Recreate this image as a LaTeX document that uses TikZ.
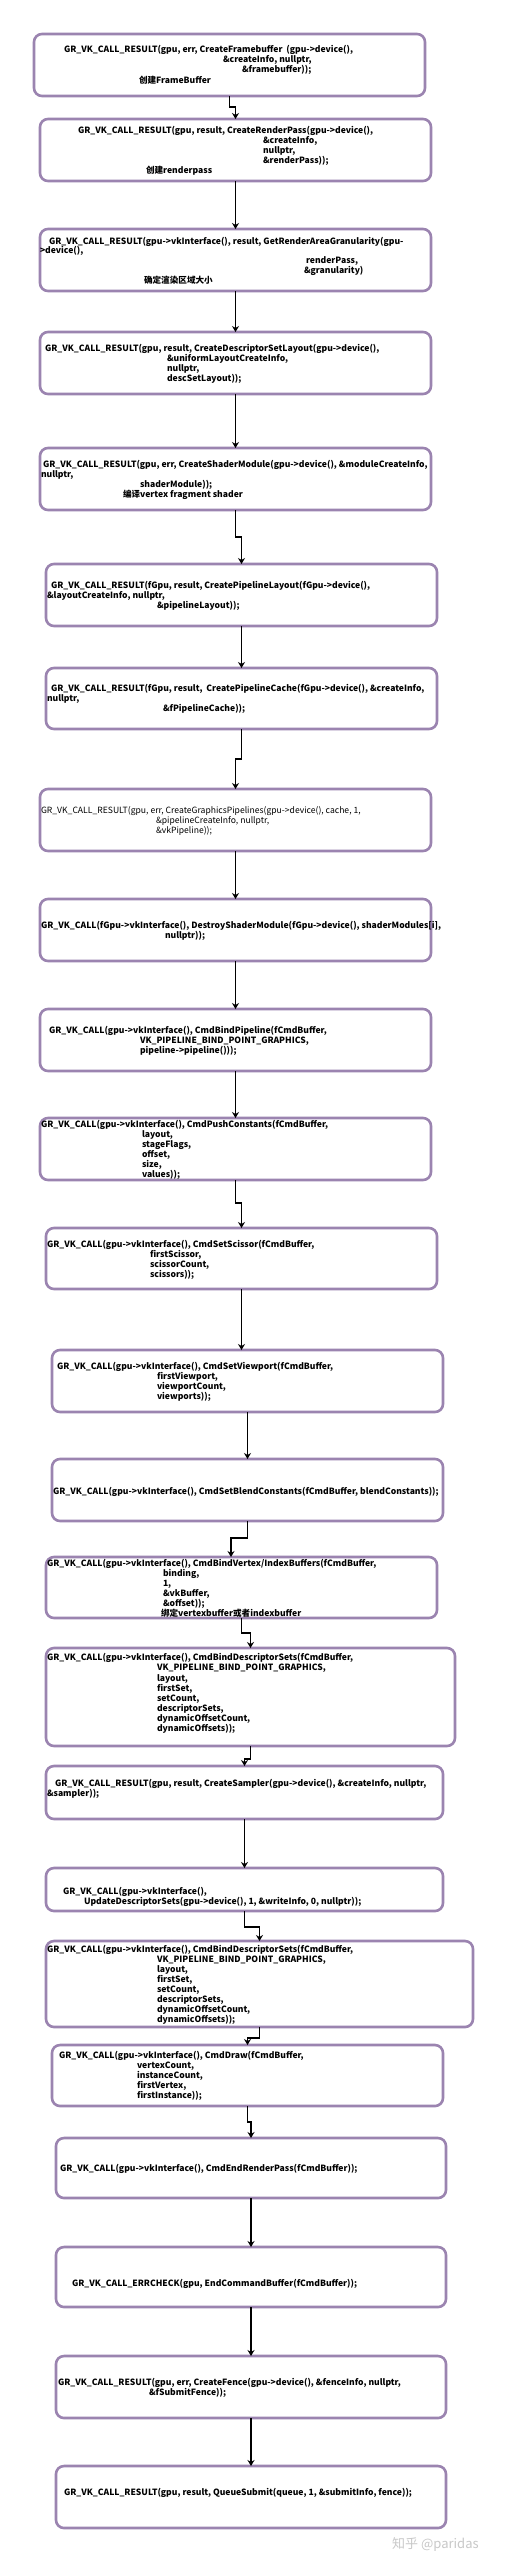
\documentclass[tikz,border=0pt]{standalone}
\usepackage{fontspec}
\setmainfont{Noto Sans CJK SC}
\usetikzlibrary{arrows.meta}
\definecolor{boxc}{RGB}{155,132,176}
\definecolor{wmark}{RGB}{200,200,200}
\tikzset{
 box/.style={draw=boxc, line width=2.6bp, rounded corners=8bp, fill=white, outer sep=0pt, inner sep=0pt},
 txt/.style={inner sep=0pt, outer sep=0pt, font=\fontsize{8.6bp}{10bp}\selectfont\bfseries, anchor=base west},
 txtr/.style={inner sep=0pt, outer sep=0pt, font=\fontsize{8.6bp}{10bp}\selectfont, anchor=base west},
 arr/.style={draw=black, line width=1.5bp, -{Stealth[length=6bp,width=7bp]}},
}
\newcounter{lnno}
\newcommand\tl[4][txt]{\stepcounter{lnno}\node[#1] (ln\thelnno) at (#2,#3+3.3) {#4};}
\newcommand\bx[5]{\node[box, minimum width={(#4-#2)*1bp}, minimum height={(#5-#3)*1bp}] (#1) at ({(#2+#4)/2},{(#3+#5)/2}) {};}
\begin{document}
\begin{tikzpicture}[x=1bp,y=-1bp]
\fill[white] (0,0) rectangle (506,2568);
\useasboundingbox (0,0) rectangle (506,2568);
% boxes
\bx{b1}{34}{34}{425}{96}
\bx{b2}{40}{119}{431}{181}
\bx{b3}{40}{229}{431}{291}
\bx{b4}{40}{332}{431}{394}
\bx{b5}{40}{448}{431}{510}
\bx{b6}{46}{564}{437}{626}
\bx{b7}{46}{668}{437}{729}
\bx{b8}{40}{789}{431}{851}
\bx{b9}{40}{899}{431}{961}
\bx{b10}{40}{1009}{431}{1071}
\bx{b11}{40}{1118}{431}{1180}
\bx{b12}{46}{1228}{437}{1289}
\bx{b13}{52}{1350}{443}{1412}
\bx{b14}{52}{1459}{443}{1521}
\bx{b15}{46}{1557}{437}{1618}
\bx{b16}{46}{1648}{455}{1746}
\bx{b17}{46}{1766}{443}{1819}
\bx{b18}{46}{1868}{443}{1911}
\bx{b19}{46}{1941}{473}{2027}
\bx{b20}{52}{2045}{443}{2106}
\bx{b21}{56}{2138}{446}{2198}
\bx{b22}{56}{2247}{446}{2307}
\bx{b23}{56}{2356}{446}{2418}
\bx{b24}{56}{2466}{446}{2528}
% connectors
\draw[arr] (b1.south) -- ++(0,11) -| (b2.north);
\draw[arr] (b2.south) -- (b3.north);
\draw[arr] (b3.south) -- (b4.north);
\draw[arr] (b4.south) -- (b5.north);
\draw[arr] (b5.south) -- ++(0,27) -| (b6.north);
\draw[arr] (b6.south) -- (b7.north);
\draw[arr] (b7.south) -- ++(0,30) -| (b8.north);
\draw[arr] (b8.south) -- (b9.north);
\draw[arr] (b9.south) -- (b10.north);
\draw[arr] (b10.south) -- (b11.north);
\draw[arr] (b11.south) -- ++(0,23) -| (b12.north);
\draw[arr] (b12.south) -- (b12.south |- b13.north);
\draw[arr] (b13.south) -- (b14.north);
\draw[arr] (b14.south) -- ++(0,17) -| ([xshift=-10.5bp]b15.north);
\draw[arr] (b15.south) -- ++(0,15) -| (b16.north);
\draw[arr] (b16.south) -- ++(0,13) -| (b17.north);
\draw[arr] (b17.south) -- (b18.north);
\draw[arr] (b18.south) -- ++(0,16) -| (b19.north);
\draw[arr] (b19.south) -- ++(0,11) -| (b20.north);
\draw[arr] (b20.south) -- ++(0,16) -| (b21.north);
\draw[arr] (b21.south) -- (b22.north);
\draw[arr] (b22.south) -- (b23.north);
\draw[arr] (b23.south) -- (b24.north);
% texts
\tl{64}{49}{GR\_VK\_CALL\_RESULT(gpu, err, CreateFramebuffer~~(gpu->device(),}
\tl{223}{59}{\&createInfo, nullptr,}
\tl{242}{69}{\&framebuffer));}
\tl{139}{80}{创建FrameBuffer}
%
\tl{78}{130}{GR\_VK\_CALL\_RESULT(gpu, result, CreateRenderPass(gpu->device(),}
\tl{263}{140}{\&createInfo,}
\tl{263}{150}{nullptr,}
\tl{263}{160}{\&renderPass));}
\tl{146}{170}{创建renderpass}
%
\tl{49}{241}{GR\_VK\_CALL\_RESULT(gpu->vkInterface(), result, GetRenderAreaGranularity(gpu-}
\tl{40}{250}{>device(),}
\tl{306}{260}{renderPass,}
\tl{304}{270}{\&granularity)}
\tl{144}{280}{确定渲染区域大小}
%
\tl{45}{348}{GR\_VK\_CALL\_RESULT(gpu, result, CreateDescriptorSetLayout(gpu->device(),}
\tl{167}{358}{\&uniformLayoutCreateInfo,}
\tl{167}{368}{nullptr,}
\tl{167}{378}{descSetLayout));}
%
\tl{43}{464}{GR\_VK\_CALL\_RESULT(gpu, err, CreateShaderModule(gpu->device(), \&moduleCreateInfo,}
\tl{41}{474}{nullptr,}
\tl{140}{484}{shaderModule));}
\tl{123}{494}{编译vertex fragment shader}
%
\tl{51}{585}{GR\_VK\_CALL\_RESULT(fGpu, result, CreatePipelineLayout(fGpu->device(),}
\tl{47}{595}{\&layoutCreateInfo, nullptr,}
\tl{157}{605}{\&pipelineLayout));}
%
\tl{51}{688}{GR\_VK\_CALL\_RESULT(fGpu, result,~~CreatePipelineCache(fGpu->device(), \&createInfo,}
\tl{47}{698}{nullptr,}
\tl{163}{708}{\&fPipelineCache));}
%
\tl[txtr]{41}{810}{GR\_VK\_CALL\_RESULT(gpu, err, CreateGraphicsPipelines(gpu->device(), cache, 1,}
\tl[txtr]{156}{820}{\&pipelineCreateInfo, nullptr,}
\tl[txtr]{156}{830}{\&vkPipeline));}
%
\tl{41}{925}{GR\_VK\_CALL(fGpu->vkInterface(), DestroyShaderModule(fGpu->device(), shaderModules[i],}
\tl{165}{935}{nullptr));}
%
\tl{49}{1030}{GR\_VK\_CALL(gpu->vkInterface(), CmdBindPipeline(fCmdBuffer,}
\tl{140}{1040}{VK\_PIPELINE\_BIND\_POINT\_GRAPHICS,}
\tl{140}{1050}{pipeline->pipeline()));}
%
\tl{41}{1124}{GR\_VK\_CALL(gpu->vkInterface(), CmdPushConstants(fCmdBuffer,}
\tl{142}{1134}{layout,}
\tl{142}{1144}{stageFlags,}
\tl{142}{1154}{offset,}
\tl{142}{1164}{size,}
\tl{142}{1174}{values));}
%
\tl{47}{1244}{GR\_VK\_CALL(gpu->vkInterface(), CmdSetScissor(fCmdBuffer,}
\tl{150}{1254}{firstScissor,}
\tl{150}{1264}{scissorCount,}
\tl{150}{1274}{scissors));}
%
\tl{57}{1366}{GR\_VK\_CALL(gpu->vkInterface(), CmdSetViewport(fCmdBuffer,}
\tl{157}{1376}{firstViewport,}
\tl{157}{1386}{viewportCount,}
\tl{157}{1396}{viewports));}
%
\tl{53}{1491}{GR\_VK\_CALL(gpu->vkInterface(), CmdSetBlendConstants(fCmdBuffer, blendConstants));}
%
\tl{47}{1563}{GR\_VK\_CALL(gpu->vkInterface(), CmdBindVertex/IndexBuffers(fCmdBuffer,}
\tl{163}{1573}{binding,}
\tl{163}{1583}{1,}
\tl{163}{1593}{\&vkBuffer,}
\tl{163}{1603}{\&offset));}
\tl{161}{1613}{绑定vertexbuffer或者indexbuffer}
%
\tl{47}{1657}{GR\_VK\_CALL(gpu->vkInterface(), CmdBindDescriptorSets(fCmdBuffer,}
\tl{157}{1667}{VK\_PIPELINE\_BIND\_POINT\_GRAPHICS,}
\tl{157}{1678}{layout,}
\tl{157}{1688}{firstSet,}
\tl{157}{1698}{setCount,}
\tl{157}{1708}{descriptorSets,}
\tl{157}{1718}{dynamicOffsetCount,}
\tl{157}{1728}{dynamicOffsets));}
%
\tl{55}{1783}{GR\_VK\_CALL\_RESULT(gpu, result, CreateSampler(gpu->device(), \&createInfo, nullptr,}
\tl{47}{1793}{\&sampler));}
%
\tl{63}{1891}{GR\_VK\_CALL(gpu->vkInterface(),}
\tl{84}{1901}{UpdateDescriptorSets(gpu->device(), 1, \&writeInfo, 0, nullptr));}
%
\tl{47}{1949}{GR\_VK\_CALL(gpu->vkInterface(), CmdBindDescriptorSets(fCmdBuffer,}
\tl{157}{1959}{VK\_PIPELINE\_BIND\_POINT\_GRAPHICS,}
\tl{157}{1969}{layout,}
\tl{157}{1979}{firstSet,}
\tl{157}{1989}{setCount,}
\tl{157}{1999}{descriptorSets,}
\tl{157}{2009}{dynamicOffsetCount,}
\tl{157}{2019}{dynamicOffsets));}
%
\tl{59}{2055}{GR\_VK\_CALL(gpu->vkInterface(), CmdDraw(fCmdBuffer,}
\tl{137}{2065}{vertexCount,}
\tl{137}{2075}{instanceCount,}
\tl{137}{2085}{firstVertex,}
\tl{137}{2095}{firstInstance));}
%
\tl{60}{2168}{GR\_VK\_CALL(gpu->vkInterface(), CmdEndRenderPass(fCmdBuffer));}
%
\tl{72}{2283}{GR\_VK\_CALL\_ERRCHECK(gpu, EndCommandBuffer(fCmdBuffer));}
%
\tl{58}{2382}{GR\_VK\_CALL\_RESULT(gpu, err, CreateFence(gpu->device(), \&fenceInfo, nullptr,}
\tl{149}{2392}{\&fSubmitFence));}
%
\tl{64}{2492}{GR\_VK\_CALL\_RESULT(gpu, result, QueueSubmit(queue, 1, \&submitInfo, fence));}
% watermark
\node[inner sep=0pt, anchor=west, text=wmark, font=\fontsize{13bp}{15bp}\selectfont] (wm) at (392,2544) {知乎 @paridas};
\end{tikzpicture}
\end{document}
